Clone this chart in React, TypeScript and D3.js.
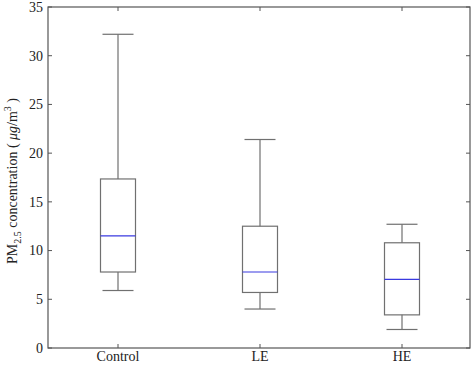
import React, { useEffect, useRef } from 'react';
import * as d3 from 'd3';

const groups = ['Control', 'LE', 'HE'];
const lowerWhisker = [5.9, 4.0, 1.9];
const q1 = [7.8, 5.7, 3.4];
const medians = [11.5, 7.8, 7.05];
const q3 = [17.35, 12.5, 10.8];
const upperWhisker = [32.2, 21.4, 12.7];
const yTicks = [0, 5, 10, 15, 20, 25, 30, 35];

const App: React.FC = () => {
  const svgRef = useRef<SVGSVGElement>(null);

  useEffect(() => {
    if (!svgRef.current) return;
    const svg = d3.select(svgRef.current);
    svg.selectAll('*').remove();

    const width = 474;
    const height = 365;
    const left = 48;
    const right = 470;
    const top = 7;
    const bottom = 348;
    const font = '"Liberation Serif", "Times New Roman", serif';
    const axisColor = '#555';
    const boxColor = '#707070';

    const x = d3.scaleLinear().domain([0.5, 3.5]).range([47, 473]);
    const y = d3.scaleLinear().domain([0, 35]).range([bottom, top]);

    svg.attr('width', width).attr('height', height);

    // plot frame
    svg.append('rect')
      .attr('x', left).attr('y', top)
      .attr('width', right - left).attr('height', bottom - top)
      .attr('fill', 'none').attr('stroke', axisColor).attr('stroke-width', 1.2);

    // y ticks (inside, both sides)
    const yt = svg.append('g');
    yTicks.forEach(t => {
      yt.append('line').attr('x1', left).attr('x2', left + 4).attr('y1', y(t)).attr('y2', y(t))
        .attr('stroke', axisColor);
      yt.append('line').attr('x1', right - 4).attr('x2', right).attr('y1', y(t)).attr('y2', y(t))
        .attr('stroke', axisColor);
      yt.append('text').attr('x', left - 5).attr('y', y(t)).attr('dy', '0.35em')
        .attr('text-anchor', 'end').attr('font-family', font).attr('font-size', 14)
        .attr('fill', '#222').text(t);
    });

    // x ticks
    groups.forEach((g, i) => {
      const cx = x(i + 1);
      svg.append('line').attr('x1', cx).attr('x2', cx).attr('y1', bottom).attr('y2', bottom - 4)
        .attr('stroke', axisColor);
      svg.append('line').attr('x1', cx).attr('x2', cx).attr('y1', top).attr('y2', top + 4)
        .attr('stroke', axisColor);
      svg.append('text').attr('x', cx).attr('y', 361)
        .attr('text-anchor', 'middle').attr('font-family', font).attr('font-size', 14)
        .attr('fill', '#222').text(g);
    });

    // boxes
    const boxW = 35;
    const capW = 31;
    groups.forEach((_, i) => {
      const cx = x(i + 1);
      const b = svg.append('g').attr('stroke', boxColor).attr('stroke-width', 1.2).attr('fill', 'none');
      b.append('line').attr('x1', cx).attr('x2', cx).attr('y1', y(upperWhisker[i])).attr('y2', y(q3[i]));
      b.append('line').attr('x1', cx).attr('x2', cx).attr('y1', y(q1[i])).attr('y2', y(lowerWhisker[i]));
      b.append('line').attr('x1', cx - capW / 2).attr('x2', cx + capW / 2)
        .attr('y1', y(upperWhisker[i])).attr('y2', y(upperWhisker[i]));
      b.append('line').attr('x1', cx - capW / 2).attr('x2', cx + capW / 2)
        .attr('y1', y(lowerWhisker[i])).attr('y2', y(lowerWhisker[i]));
      b.append('rect').attr('x', cx - boxW / 2).attr('y', y(q3[i]))
        .attr('width', boxW).attr('height', y(q1[i]) - y(q3[i]));
      svg.append('line').attr('x1', cx - boxW / 2).attr('x2', cx + boxW / 2)
        .attr('y1', y(medians[i])).attr('y2', y(medians[i]))
        .attr('stroke', '#3a3ae0').attr('stroke-width', 1.2);
    });

    // y label
    const label = svg.append('text')
      .attr('transform', 'translate(17,181) rotate(-90)')
      .attr('text-anchor', 'middle').attr('font-family', font).attr('font-size', 14)
      .attr('fill', '#222');
    label.append('tspan').text('PM');
    label.append('tspan').attr('font-size', 10).attr('dy', 4).text('2.5');
    label.append('tspan').attr('dy', -4).text(' concentration ( ');
    label.append('tspan').attr('font-style', 'italic').text('μg');
    label.append('tspan').text('/m');
    label.append('tspan').attr('font-size', 10).attr('dy', -6).text('3');
    label.append('tspan').attr('dy', 6).text(' )');
  }, []);

  return (
    <div style={{ position: 'absolute', left: 0, top: 0, background: '#fff' }}>
      <svg ref={svgRef} style={{ display: 'block' }}></svg>
    </div>
  );
};

export default App;
